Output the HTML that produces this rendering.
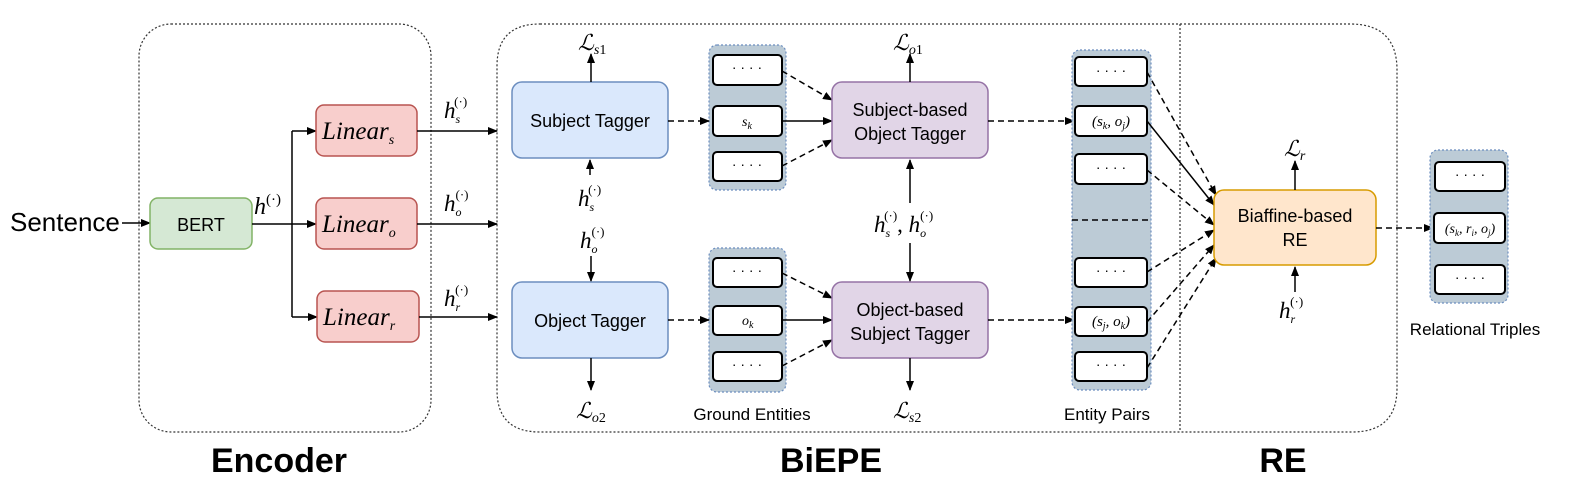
<!DOCTYPE html>
<html><head><meta charset="utf-8"><style>
html,body{margin:0;padding:0;background:#fff;}
svg{display:block;}
text{font-family:"Liberation Sans",sans-serif;}
.m{font-family:"Liberation Serif",serif;font-style:italic;}
</style></head><body>
<svg width="1578" height="488" viewBox="0 0 1578 488" xmlns="http://www.w3.org/2000/svg">
<defs>
<marker id="a" markerWidth="10" markerHeight="8" refX="9" refY="4" orient="auto" markerUnits="userSpaceOnUse"><path d="M0,0 L10,4 L0,8 z" fill="#000"/></marker>
</defs>
<rect x="139" y="24" width="292" height="408" rx="32" fill="none" stroke="#333" stroke-width="1.2" stroke-dasharray="2,2"/>
<path d="M540,24 H1350 Q1397,24 1397,70 V388 Q1397,432 1352,432 H540 Q497,432 497,390 V66 Q497,24 540,24 Z" fill="none" stroke="#333" stroke-width="1.2" stroke-dasharray="2,2"/>
<line x1="1180" y1="24" x2="1180" y2="432" stroke="#333" stroke-width="1.2" stroke-dasharray="2,2"/>

<text x="10" y="231" font-size="26">Sentence</text>
<line x1="122" y1="223" x2="150" y2="223" stroke="#000" stroke-width="1.5" marker-end="url(#a)"/>
<rect x="150" y="198" width="102" height="51" rx="8" fill="#d5e8d4" stroke="#82b366" stroke-width="1.5"/>
<text x="201" y="231" font-size="18" text-anchor="middle">BERT</text>
<text x="254" y="214" font-size="24" class="m">h<tspan font-size="15" dy="-10" font-style="normal">(·)</tspan></text>
<path d="M252,224 H292 M292,131 V317" stroke="#000" stroke-width="1.5" fill="none"/>
<line x1="292" y1="131" x2="316" y2="131" stroke="#000" stroke-width="1.5" marker-end="url(#a)"/>
<line x1="292" y1="224" x2="316" y2="224" stroke="#000" stroke-width="1.5" marker-end="url(#a)"/>
<line x1="292" y1="317" x2="317" y2="317" stroke="#000" stroke-width="1.5" marker-end="url(#a)"/>
<rect x="316" y="105" width="101" height="51" rx="8" fill="#f8cecc" stroke="#b85450" stroke-width="1.5"/>
<rect x="316" y="198" width="101" height="51" rx="8" fill="#f8cecc" stroke="#b85450" stroke-width="1.5"/>
<rect x="317" y="291" width="102" height="51" rx="8" fill="#f8cecc" stroke="#b85450" stroke-width="1.5"/>
<text x="322" y="139" font-size="25" class="m">Linear<tspan font-size="14" dy="5">s</tspan></text>
<text x="322" y="232" font-size="25" class="m">Linear<tspan font-size="14" dy="5">o</tspan></text>
<text x="323" y="325" font-size="25" class="m">Linear<tspan font-size="14" dy="5">r</tspan></text>
<line x1="417" y1="131" x2="497" y2="131" stroke="#000" stroke-width="1.5" marker-end="url(#a)"/>
<line x1="417" y1="224" x2="497" y2="224" stroke="#000" stroke-width="1.5" marker-end="url(#a)"/>
<line x1="419" y1="317" x2="497" y2="317" stroke="#000" stroke-width="1.5" marker-end="url(#a)"/>
<text x="444" y="118" font-size="23" class="m">h<tspan font-size="12" dy="5">s</tspan><tspan font-size="13" dy="-17" dx="-6" font-style="normal">(·)</tspan></text>
<text x="444" y="211" font-size="23" class="m">h<tspan font-size="12" dy="5">o</tspan><tspan font-size="13" dy="-17" dx="-6" font-style="normal">(·)</tspan></text>
<text x="444" y="306" font-size="23" class="m">h<tspan font-size="12" dy="5">r</tspan><tspan font-size="13" dy="-17" dx="-5" font-style="normal">(·)</tspan></text>

<rect x="512" y="82" width="156" height="76" rx="10" fill="#dae8fc" stroke="#6c8ebf" stroke-width="1.5"/>
<text x="590" y="127" font-size="18" text-anchor="middle">Subject Tagger</text>
<rect x="512" y="282" width="156" height="76" rx="10" fill="#dae8fc" stroke="#6c8ebf" stroke-width="1.5"/>
<text x="590" y="327" font-size="18" text-anchor="middle">Object Tagger</text>
<line x1="591" y1="82" x2="591" y2="54" stroke="#000" stroke-width="1.5" marker-end="url(#a)"/>
<text x="578" y="50" font-size="22" class="m">ℒ<tspan font-size="14" dy="4">s</tspan><tspan font-size="14" font-style="normal">1</tspan></text>
<line x1="590" y1="175" x2="590" y2="160" stroke="#000" stroke-width="1.5" marker-end="url(#a)"/>
<text x="578" y="206" font-size="23" class="m">h<tspan font-size="12" dy="5">s</tspan><tspan font-size="13" dy="-17" dx="-6" font-style="normal">(·)</tspan></text>
<text x="580" y="248" font-size="23" class="m">h<tspan font-size="12" dy="5">o</tspan><tspan font-size="13" dy="-17" dx="-6" font-style="normal">(·)</tspan></text>
<line x1="591" y1="256" x2="591" y2="281" stroke="#000" stroke-width="1.5" marker-end="url(#a)"/>
<line x1="591" y1="358" x2="591" y2="390" stroke="#000" stroke-width="1.5" marker-end="url(#a)"/>
<text x="576" y="418" font-size="22" class="m">ℒ<tspan font-size="14" dy="4">o</tspan><tspan font-size="14" font-style="normal">2</tspan></text>

<rect x="709" y="45" width="77" height="145" rx="8" fill="#bccbd6" stroke="#6c8ebf" stroke-width="1.2" stroke-dasharray="2,2"/>
<rect x="709" y="248" width="77" height="144" rx="8" fill="#bccbd6" stroke="#6c8ebf" stroke-width="1.2" stroke-dasharray="2,2"/>
<g fill="#fff" stroke="#000" stroke-width="2">
<rect x="713" y="55" width="69" height="30" rx="4"/><rect x="713" y="106" width="69" height="30" rx="4"/><rect x="713" y="152" width="69" height="29" rx="4"/>
<rect x="713" y="258" width="69" height="29" rx="4"/><rect x="713" y="306" width="69" height="29" rx="4"/><rect x="713" y="352" width="69" height="29" rx="4"/>
</g>
<g font-size="14" text-anchor="middle" font-family="Liberation Serif,serif">
<text x="747" y="72">· · · ·</text><text x="747" y="169">· · · ·</text><text x="747" y="275">· · · ·</text><text x="747" y="369">· · · ·</text>
</g>
<text x="742" y="126" font-size="14" class="m">s<tspan font-size="10" dy="3">k</tspan></text>
<text x="742" y="325" font-size="14" class="m">o<tspan font-size="10" dy="3">k</tspan></text>
<text x="752" y="420" font-size="17" text-anchor="middle">Ground Entities</text>
<line x1="668" y1="121" x2="709" y2="121" stroke="#000" stroke-width="1.5" stroke-dasharray="6,4" marker-end="url(#a)"/>
<line x1="668" y1="320" x2="709" y2="320" stroke="#000" stroke-width="1.5" stroke-dasharray="6,4" marker-end="url(#a)"/>
<g stroke="#000" stroke-width="1.5" fill="none">
<line x1="782" y1="71" x2="832" y2="100" stroke-dasharray="6,4" marker-end="url(#a)"/>
<line x1="782" y1="121" x2="832" y2="121" marker-end="url(#a)"/>
<line x1="782" y1="166" x2="832" y2="140" stroke-dasharray="6,4" marker-end="url(#a)"/>
<line x1="782" y1="273" x2="832" y2="298" stroke-dasharray="6,4" marker-end="url(#a)"/>
<line x1="782" y1="320" x2="832" y2="320" marker-end="url(#a)"/>
<line x1="782" y1="366" x2="832" y2="340" stroke-dasharray="6,4" marker-end="url(#a)"/>
</g>

<rect x="832" y="82" width="156" height="76" rx="10" fill="#e1d5e7" stroke="#9673a6" stroke-width="1.5"/>
<text x="910" y="116" font-size="18" text-anchor="middle">Subject-based</text>
<text x="910" y="140" font-size="18" text-anchor="middle">Object Tagger</text>
<rect x="832" y="282" width="156" height="76" rx="10" fill="#e1d5e7" stroke="#9673a6" stroke-width="1.5"/>
<text x="910" y="316" font-size="18" text-anchor="middle">Object-based</text>
<text x="910" y="340" font-size="18" text-anchor="middle">Subject Tagger</text>
<line x1="910" y1="82" x2="910" y2="54" stroke="#000" stroke-width="1.5" marker-end="url(#a)"/>
<text x="893" y="50" font-size="22" class="m">ℒ<tspan font-size="14" dy="4">o</tspan><tspan font-size="14" font-style="normal">1</tspan></text>
<line x1="910" y1="203" x2="910" y2="160" stroke="#000" stroke-width="1.5" marker-end="url(#a)"/>
<line x1="910" y1="243" x2="910" y2="281" stroke="#000" stroke-width="1.5" marker-end="url(#a)"/>
<text x="874" y="232" font-size="23" class="m">h<tspan font-size="12" dy="5">s</tspan><tspan font-size="13" dy="-17" dx="-6" font-style="normal">(·)</tspan><tspan dy="12" font-style="normal">, </tspan>h<tspan font-size="12" dy="5">o</tspan><tspan font-size="13" dy="-17" dx="-6" font-style="normal">(·)</tspan></text>
<line x1="910" y1="358" x2="910" y2="390" stroke="#000" stroke-width="1.5" marker-end="url(#a)"/>
<text x="893" y="418" font-size="22" class="m">ℒ<tspan font-size="14" dy="4">s</tspan><tspan font-size="14" font-style="normal">2</tspan></text>
<line x1="988" y1="121" x2="1074" y2="121" stroke="#000" stroke-width="1.5" stroke-dasharray="6,4" marker-end="url(#a)"/>
<line x1="988" y1="320" x2="1074" y2="320" stroke="#000" stroke-width="1.5" stroke-dasharray="6,4" marker-end="url(#a)"/>

<rect x="1072" y="50" width="79" height="340" rx="8" fill="#bccbd6" stroke="#6c8ebf" stroke-width="1.2" stroke-dasharray="2,2"/>
<line x1="1072" y1="220" x2="1151" y2="220" stroke="#000" stroke-width="1.5" stroke-dasharray="6,4"/>
<g fill="#fff" stroke="#000" stroke-width="2">
<rect x="1075" y="57" width="72" height="29" rx="4"/><rect x="1075" y="106" width="72" height="30" rx="4"/><rect x="1075" y="154" width="72" height="30" rx="4"/>
<rect x="1075" y="258" width="72" height="29" rx="4"/><rect x="1075" y="307" width="72" height="29" rx="4"/><rect x="1075" y="352" width="72" height="29" rx="4"/>
</g>
<g font-size="14" text-anchor="middle" font-family="Liberation Serif,serif">
<text x="1111" y="75">· · · ·</text><text x="1111" y="172">· · · ·</text><text x="1111" y="275">· · · ·</text><text x="1111" y="369">· · · ·</text>
</g>
<text x="1111" y="126" font-size="15" text-anchor="middle" class="m">(s<tspan font-size="10" dy="3">k</tspan><tspan dy="-3">, o</tspan><tspan font-size="10" dy="3">j</tspan><tspan dy="-3">)</tspan></text>
<text x="1111" y="326" font-size="15" text-anchor="middle" class="m">(s<tspan font-size="10" dy="3">j</tspan><tspan dy="-3">, o</tspan><tspan font-size="10" dy="3">k</tspan><tspan dy="-3">)</tspan></text>
<text x="1107" y="420" font-size="17" text-anchor="middle">Entity Pairs</text>
<g stroke="#000" stroke-width="1.5" fill="none">
<line x1="1147" y1="72" x2="1216" y2="195" stroke-dasharray="6,4" marker-end="url(#a)"/>
<line x1="1147" y1="121" x2="1214" y2="205" marker-end="url(#a)"/>
<line x1="1147" y1="170" x2="1214" y2="225" stroke-dasharray="6,4" marker-end="url(#a)"/>
<line x1="1147" y1="272" x2="1214" y2="230" stroke-dasharray="6,4" marker-end="url(#a)"/>
<line x1="1147" y1="322" x2="1214" y2="245" stroke-dasharray="6,4" marker-end="url(#a)"/>
<line x1="1147" y1="368" x2="1216" y2="258" stroke-dasharray="6,4" marker-end="url(#a)"/>
</g>

<rect x="1214" y="190" width="162" height="75" rx="10" fill="#ffe6cc" stroke="#d79b00" stroke-width="1.5"/>
<text x="1295" y="222" font-size="18" text-anchor="middle">Biaffine-based</text>
<text x="1295" y="246" font-size="18" text-anchor="middle">RE</text>
<line x1="1295" y1="190" x2="1295" y2="161" stroke="#000" stroke-width="1.5" marker-end="url(#a)"/>
<text x="1284" y="156" font-size="22" class="m">ℒ<tspan font-size="14" dy="4">r</tspan></text>
<line x1="1295" y1="292" x2="1295" y2="267" stroke="#000" stroke-width="1.5" marker-end="url(#a)"/>
<text x="1279" y="318" font-size="23" class="m">h<tspan font-size="12" dy="5">r</tspan><tspan font-size="13" dy="-17" dx="-5" font-style="normal">(·)</tspan></text>
<line x1="1376" y1="228" x2="1433" y2="228" stroke="#000" stroke-width="1.5" stroke-dasharray="6,4" marker-end="url(#a)"/>

<rect x="1430" y="150" width="78" height="153" rx="8" fill="#bccbd6" stroke="#6c8ebf" stroke-width="1.2" stroke-dasharray="2,2"/>
<g fill="#fff" stroke="#000" stroke-width="2">
<rect x="1435" y="162" width="70" height="29" rx="4"/><rect x="1434" y="213" width="71" height="30" rx="4"/><rect x="1435" y="265" width="70" height="29" rx="4"/>
</g>
<g font-size="14" text-anchor="middle" font-family="Liberation Serif,serif">
<text x="1470" y="179">· · · ·</text><text x="1470" y="282">· · · ·</text>
</g>
<text x="1470" y="233" font-size="14" text-anchor="middle" class="m">(s<tspan font-size="9" dy="3">k</tspan><tspan dy="-3">, r</tspan><tspan font-size="9" dy="3">i</tspan><tspan dy="-3">, o</tspan><tspan font-size="9" dy="3">j</tspan><tspan dy="-3">)</tspan></text>
<text x="1475" y="335" font-size="17" text-anchor="middle">Relational Triples</text>

<g font-size="34" font-weight="bold" text-anchor="middle">
<text x="279" y="472">Encoder</text>
<text x="831" y="472">BiEPE</text>
<text x="1283" y="472">RE</text>
</g>
</svg>
</body></html>
